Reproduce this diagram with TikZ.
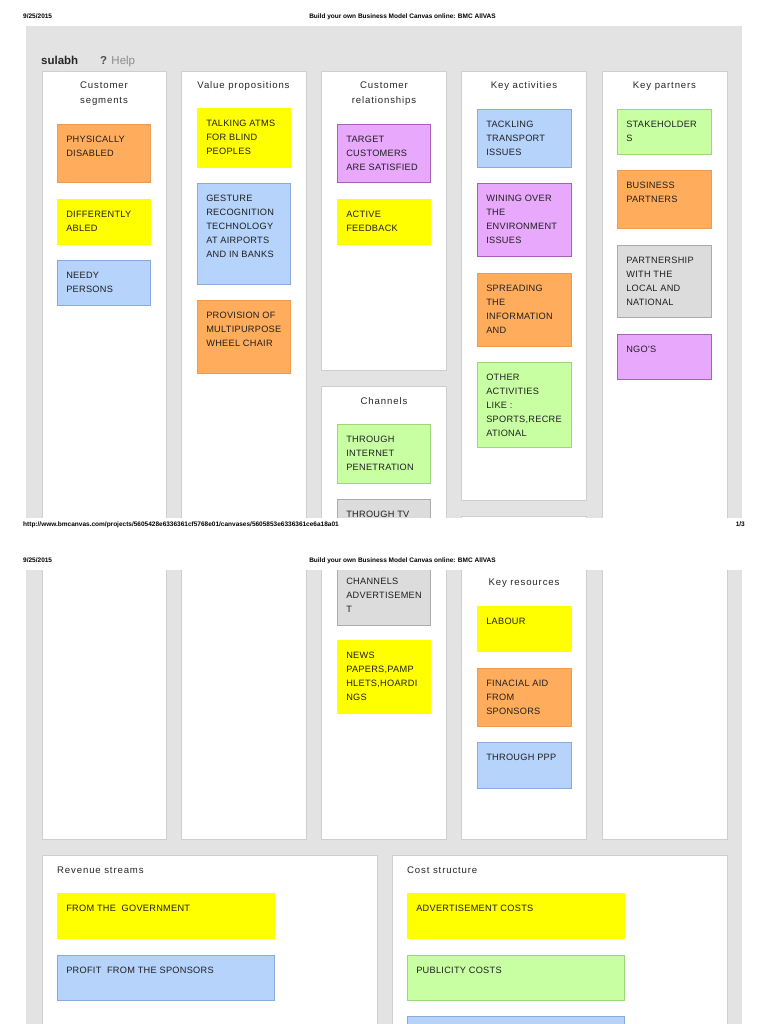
\documentclass[tikz,border=0pt]{standalone}
\usepackage{fontspec}
\setmainfont{Liberation Sans}
\newfontfamily\notefont[LetterSpace=3]{Liberation Sans}
\newfontfamily\titlefont[LetterSpace=9]{Liberation Sans}
\definecolor{panelgray}{HTML}{E3E3E3}
\definecolor{colline}{HTML}{CFCFCF}
\definecolor{nyellow}{HTML}{FFFF00}
\definecolor{norange}{HTML}{FFAD5C}
\definecolor{nblue}{HTML}{B5D3FB}
\definecolor{npurple}{HTML}{E8A8FB}
\definecolor{ngreen}{HTML}{C8FFA3}
\definecolor{ngray}{HTML}{DCDCDC}
\definecolor{lorange}{HTML}{EE9A50}
\definecolor{lblue}{HTML}{86ABDC}
\definecolor{lpurple}{HTML}{A860B8}
\definecolor{lgreen}{HTML}{9AD878}
\definecolor{lgray}{HTML}{ABABAB}
\tikzset{
  x=1pt,y=-1pt,
  panel/.style={fill=panelgray,draw=none,anchor=north west,inner sep=0pt,outer sep=0pt},
  column/.style={fill=white,draw=colline,line width=.7pt,anchor=north west,inner sep=0pt,outer sep=0pt},
  notebox/.style={anchor=north west,inner sep=0pt,outer sep=0pt,line width=.8pt},
  yellownote/.style={notebox,fill=nyellow,draw=nyellow},
  orangenote/.style={notebox,fill=norange,draw=lorange},
  bluenote/.style={notebox,fill=nblue,draw=lblue},
  purplenote/.style={notebox,fill=npurple,draw=lpurple},
  greennote/.style={notebox,fill=ngreen,draw=lgreen},
  graynote/.style={notebox,fill=ngray,draw=lgray},
  notetext/.style={anchor=north west,inner sep=0pt,align=left,text=black!88,font=\notefont\fontsize{9.2}{14}\selectfont},
  coltitle/.style={anchor=north,inner sep=0pt,align=center,text=black!85,font=\titlefont\fontsize{9.6}{15}\selectfont},
  pagetext/.style={inner sep=0pt,font=\bfseries\fontsize{6.5}{7}\selectfont,text=black},
}
\newcommand{\rbox}[6]{%
  \pgfmathsetlengthmacro{\rw}{#5-#3-.5}\pgfmathsetlengthmacro{\rh}{#6-#4-.5}%
  \node[#2,minimum width=\rw,minimum height=\rh] (#1) at (#3+.3,#4+.3) {};}
\newcommand{\note}[7]{%
  \rbox{#1}{#2}{#3}{#4}{#5}{#6}%
  \node[notetext] (#1t) at ([xshift=8.8pt,yshift=-11.5pt]#1.north west) {#7};}
\begin{document}
\begin{tikzpicture}
\useasboundingbox (0,0) rectangle (768,1024);
\fill[white] (0,0) rectangle (768,1024);
% grey panels
\rbox{pa}{panel}{26}{26}{742}{530}
\rbox{pb}{panel}{26}{560}{742}{1030}
% columns, page one
\rbox{ca}{column}{42}{71}{166.5}{530}
\rbox{cb}{column}{181}{71}{306.5}{530}
\rbox{cc}{column}{321}{71}{447}{371}
\rbox{cd}{column}{321}{386}{447}{530}
\rbox{ce}{column}{461}{71}{587}{501}
\rbox{cf}{column}{461}{516}{587}{530}
\rbox{cg}{column}{602}{71}{727.5}{530}
% columns, page two
\rbox{da}{column}{42}{560}{166.5}{840}
\rbox{db}{column}{181}{560}{306.5}{840}
\rbox{dc}{column}{321}{560}{447}{840}
\rbox{dd}{column}{461}{560}{587}{840}
\rbox{de}{column}{602}{560}{727.5}{840}
\rbox{rev}{column}{42}{855}{377.5}{1030}
\rbox{cst}{column}{392}{855}{727.5}{1030}
% titles
\node[coltitle] (t1) at (104,81.5) {Customer\\segments};
\node[coltitle] (t2) at (243.5,81.5) {Value propositions};
\node[coltitle] (t3) at (384,81.5) {Customer\\relationships};
\node[coltitle] (t4) at (524,81.5) {Key activities};
\node[coltitle] (t5) at (664.5,81.5) {Key partners};
\node[coltitle] (t6) at (384,397.5) {Channels};
\node[coltitle] (t7) at (524,579) {Key resources};
\node[coltitle,anchor=north west] (t8) at (57,866.5) {Revenue streams};
\node[coltitle,anchor=north west] (t9) at (407,866.5) {Cost structure};
\node[anchor=base west,inner sep=0pt,font=\bfseries\fontsize{11.5}{13}\selectfont,text=black!85] (user) at (41,65) {sulabh};
\node[anchor=base west,inner sep=0pt,font=\fontsize{11.5}{13}\selectfont,text=black!45] (help) at (100,65) {\textcolor{black!70}{\textbf{?}} Help};
% notes
\note{a1}{orangenote}{57}{124}{151}{183}{PHYSICALLY\\DISABLED}
\note{a2}{yellownote}{57}{199}{151}{245}{DIFFERENTLY\\ABLED}
\note{a3}{bluenote}{57}{260}{151}{306}{NEEDY\\PERSONS}
\note{b1}{yellownote}{197}{108}{291}{168}{TALKING ATMS\\FOR BLIND\\PEOPLES}
\note{b2}{bluenote}{197}{183}{291}{285}{GESTURE\\RECOGNITION\\TECHNOLOGY\\AT AIRPORTS\\AND IN BANKS}
\note{b3}{orangenote}{197}{300}{291}{374}{PROVISION OF\\MULTIPURPOSE\\WHEEL CHAIR}
\note{c1}{purplenote}{337}{124}{431}{183}{TARGET\\CUSTOMERS\\ARE SATISFIED}
\note{c2}{yellownote}{337}{199}{431}{245}{ACTIVE\\FEEDBACK}
\note{d1}{greennote}{337}{424}{431}{484}{THROUGH\\INTERNET\\PENETRATION}
\note{d2}{graynote}{337}{499}{431}{530}{THROUGH TV}
\note{d3}{graynote}{337}{552}{431}{626}{THROUGH TV\\CHANNELS\\ADVERTISEMEN\\T}
\note{d4}{yellownote}{337}{640}{431}{714}{NEWS\\PAPERS,PAMP\\HLETS,HOARDI\\NGS}
\note{e1}{bluenote}{477}{109}{572}{168}{TACKLING\\TRANSPORT\\ISSUES}
\note{e2}{purplenote}{477}{183}{572}{257}{WINING OVER\\THE\\ENVIRONMENT\\ISSUES}
\note{e3}{orangenote}{477}{273}{572}{347}{SPREADING\\THE\\INFORMATION\\AND}
\note{e4}{greennote}{477}{362}{572}{448}{OTHER\\ACTIVITIES\\LIKE :\\SPORTS,RECRE\\ATIONAL}
\note{f1}{yellownote}{477}{606}{572}{652}{LABOUR}
\note{f2}{orangenote}{477}{668}{572}{727}{FINACIAL AID\\FROM\\SPONSORS}
\note{f3}{bluenote}{477}{742}{572}{789}{THROUGH PPP}
\note{g1}{greennote}{617}{109}{712}{155}{STAKEHOLDER\\S}
\note{g2}{orangenote}{617}{170}{712}{229}{BUSINESS\\PARTNERS}
\note{g3}{graynote}{617}{245}{712}{318}{PARTNERSHIP\\WITH THE\\LOCAL AND\\NATIONAL}
\note{g4}{purplenote}{617}{334}{712}{380}{NGO'S}
\note{r1}{yellownote}{57}{893}{275}{939}{FROM THE\ \ GOVERNMENT}
\note{r2}{bluenote}{57}{955}{275}{1001}{PROFIT\ \ FROM THE SPONSORS}
\note{s1}{yellownote}{407}{893}{625}{939}{ADVERTISEMENT COSTS}
\note{s2}{greennote}{407}{955}{625}{1001}{PUBLICITY COSTS}
\rbox{s3}{bluenote}{407}{1016}{625}{1040}
% the gap between the two printed pages
\fill[white] (0,518) rectangle (768,569.5);
% print headers and footers
\node[pagetext,anchor=base west] (h1) at (23,18.5) {9/25/2015};
\node[pagetext,anchor=base] (h2) at (402.5,18.5) {Build your own Business Model Canvas online: BMC AllVAS};
\node[pagetext,anchor=base west] (f1) at (23,526.5) {http://www.bmcanvas.com/projects/5605428e6336361cf5768e01/canvases/5605853e6336361ce6a18a01};
\node[pagetext,anchor=base east] (f2) at (745,526.5) {1/3};
\node[pagetext,anchor=base west] (h3) at (23,562) {9/25/2015};
\node[pagetext,anchor=base] (h4) at (402.5,562) {Build your own Business Model Canvas online: BMC AllVAS};
\end{tikzpicture}
\end{document}
